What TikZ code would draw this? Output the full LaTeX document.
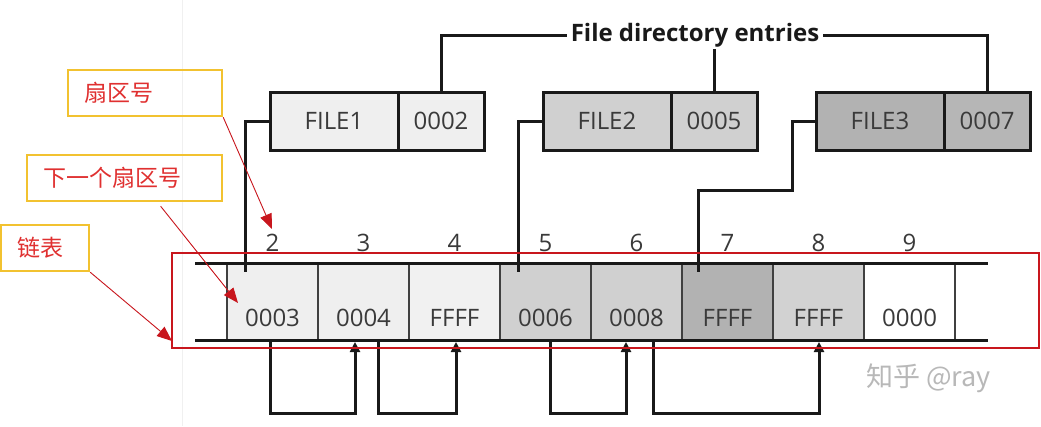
\documentclass[tikz,border=0pt]{standalone}
\usepackage{fontspec}
\setmainfont{Open Sans}
\newfontfamily\cjk{Noto Sans CJK SC}
\usetikzlibrary{arrows.meta}
\definecolor{txt}{HTML}{3A3A3A}
\definecolor{gA}{HTML}{EFEFEF}
\definecolor{gB}{HTML}{D0D0D0}
\definecolor{gC}{HTML}{B2B2B2}
\definecolor{redln}{HTML}{C8161D}
\definecolor{redtx}{HTML}{E03030}
\definecolor{gold}{HTML}{F2C230}
\begin{document}
\begin{tikzpicture}[x=1pt,y=-1pt,
  bigfont/.style={font=\fontsize{24}{28}\selectfont},
  cell/.style={minimum width=91, minimum height=77, inner sep=0pt},
  val/.style={bigfont, text=txt, inner sep=0pt},
  num/.style={bigfont, text=txt, inner sep=0pt},
  dirbox/.style={draw=black!90, line width=3pt, minimum height=58, inner sep=0pt, bigfont, text=txt},
  blk/.style={draw=black!90, line width=3pt},
  chain/.style={blk, -{Triangle[length=10pt,width=10pt]}},
  ybox/.style={draw=gold, line width=2.2pt, anchor=north west, align=left, inner xsep=16pt, inner ysep=0pt, minimum height=46, text=redtx, font=\cjk\fontsize{23}{26}\selectfont},
  redarrow/.style={draw=redln, line width=0.9pt, -{Triangle[length=15pt,width=12pt]}}
]
\useasboundingbox (0,0) rectangle (1041,426);
\fill[white] (0,0) rectangle (1041,426);
\draw[black!6, line width=0.8pt] (182,0) -- (182,426);

% sector cells
\node[cell, fill=gA] (c2) at (272.5,301.5) {};
\node[cell, fill=gA] (c3) at (363.5,301.5) {};
\node[cell, fill=gA!85!white] (c4) at (454.5,301.5) {};
\node[cell, fill=gB] (c5) at (545.5,301.5) {};
\node[cell, fill=gB] (c6) at (636.5,301.5) {};
\node[cell, fill=gC] (c7) at (727.5,301.5) {};
\node[cell, fill=gB!95!white] (c8) at (818.5,301.5) {};
\node[cell, fill=white] (c9) at (909.5,301.5) {};

\foreach \x in {227,318,409,500,591,682,773,864,955}
  \draw[black!75, line width=2.2pt] (\x,263) -- (\x,340);
\draw[blk] (195,263) -- (988,263);
\draw[blk] (195,340) -- (988,340);

% values
\node[val] (v2) at (272.5,318) {0003};
\node[val] (v3) at (363.5,318) {0004};
\node[val] (v4) at (454.5,318) {FFFF};
\node[val] (v5) at (545.5,318) {0006};
\node[val] (v6) at (636.5,318) {0008};
\node[val] (v7) at (727.5,318) {FFFF};
\node[val] (v8) at (818.5,318) {FFFF};
\node[val] (v9) at (909.5,318) {0000};

% sector numbers
\node[num] (n2) at (272.5,243) {2};
\node[num] (n3) at (363.5,243) {3};
\node[num] (n4) at (454.5,243) {4};
\node[num] (n5) at (545.5,243) {5};
\node[num] (n6) at (636.5,243) {6};
\node[num] (n7) at (727.5,243) {7};
\node[num] (n8) at (818.5,243) {8};
\node[num] (n9) at (909.5,243) {9};

% directory entries
\node[dirbox, fill=gA, minimum width=128] (f1n) at (334,121) {FILE1};
\node[dirbox, fill=gA, minimum width=86] (f1s) at (441,121) {0002};
\node[dirbox, fill=gB, minimum width=128] (f2n) at (607,121) {FILE2};
\node[dirbox, fill=gB, minimum width=86] (f2s) at (714,121) {0005};
\node[dirbox, fill=gC, minimum width=128] (f3n) at (880,121) {FILE3};
\node[dirbox, fill=gC!95!white, minimum width=86] (f3s) at (987,121) {0007};

\node[font=\bfseries\fontsize{24}{28}\selectfont, text=black!90, inner xsep=4pt, inner ysep=2pt] (title) at (695,35) {File directory entries};

\draw[blk] (f1s.north) |- (title.west);
\draw[blk] (title.east) -| (f3s.north);
\draw[blk] (f2s.north |- title.south) -- (f2s.north);

% pointers from directory to first sector
\coordinate (e2) at (245,272);
\coordinate (e5) at (518,272);
\coordinate (e7) at (698,272);
\coordinate (k7) at (792,190);
\draw[blk] (f1n.west) -| (e2);
\draw[blk] (f2n.west) -| (e5);
\draw[blk] (f3n.west) -| (k7) -| (e7);

% chain arrows
\coordinate (s2) at (270,340); \coordinate (t3) at (355,342);
\coordinate (s3) at (378,340); \coordinate (t4) at (456,342);
\coordinate (s5) at (550,340); \coordinate (t6) at (626,342);
\coordinate (s6) at (653,340); \coordinate (t8) at (819,342);
\draw[chain] (s2) -- (270,413) -| (t3);
\draw[chain] (s3) -- (378,413) -| (t4);
\draw[chain] (s5) -- (550,413) -| (t6);
\draw[chain] (s6) -- (653,413) -| (t8);

% annotations
\draw[redln, line width=1.8pt] (172,253) rectangle (1039,348);
\node[ybox, text width=122] (k1) at (67,69) {扇区号};
\node[ybox, text width=163] (k2) at (26,154) {下一个扇区号};
\node[ybox, text width=56] (k3) at (0,224) {链表};
\coordinate (a1) at (272,229);
\coordinate (a2) at (238,303);
\coordinate (a3) at (172,341);
\draw[redarrow] (k1.south east) -- (a1);
\draw[redarrow] ([xshift=36pt,yshift=-4pt]k2.south) -- (a2);
\draw[redarrow] (k3.south east) -- (a3);

% watermark
\node[text=black!28, font=\cjk\fontsize{27}{30}\selectfont, anchor=west, inner sep=0pt] (wm) at (866,378) {知乎 @ray};
\end{tikzpicture}
\end{document}
